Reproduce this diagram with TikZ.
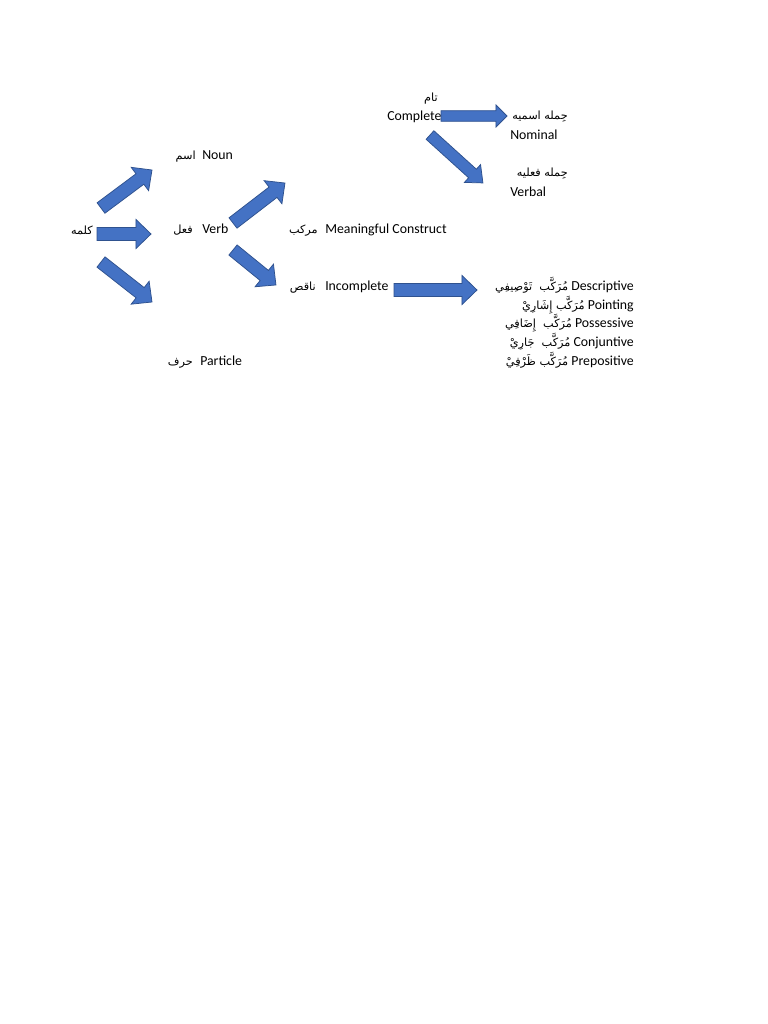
\documentclass[tikz,border=0pt]{standalone}
\usepackage{fontspec}
\setmainfont{Carlito}
\newfontfamily\arfont[Script=Arabic]{DejaVu Sans}
\TeXXeTstate=1
\usetikzlibrary{calc}
\tikzset{
  en/.style={font=\fontsize{11}{13}\selectfont, inner sep=0pt},
  arn/.style={font=\arfont\fontsize{9}{11}\selectfont, inner sep=0pt},
  barrow/.style={fill={rgb,255:red,68;green,114;blue,196}, draw={rgb,255:red,47;green,82;blue,143}, line width=0.6pt, line join=miter}
}
\newcommand\blockarrow[5]{%
  \draw[barrow] let \p1=(#1), \p2=(#2), \n1={atan2(\y2-\y1,\x2-\x1)}, \n2={veclen(\x2-\x1,\y2-\y1)} in
  [shift={(\p1)}, rotate=\n1] (0pt,-#3) -- ({\n2-#5},-#3) -- ({\n2-#5},-#4) -- (\n2,0pt) -- ({\n2-#5},#4) -- ({\n2-#5},#3) -- (0pt,#3) -- cycle;}
\begin{document}
\begin{tikzpicture}[x=0.797pt,y=-0.797pt]
\useasboundingbox[fill=white] (0,0) rectangle (768,1024);

% texts
\node[arn, anchor=base east] (kalima) at (93,234) {\beginR كلمه\endR};
\node[arn, anchor=base east] (ism) at (196,159) {\beginR اسم\endR};
\node[en, anchor=base west] (noun) at (202,159) {Noun};
\node[arn, anchor=base east] (fil) at (193,233) {\beginR فعل\endR};
\node[en, anchor=base west] (verb) at (202,233) {Verb};
\node[arn, anchor=base east] (harf) at (193,365) {\beginR حرف\endR};
\node[en, anchor=base west] (particle) at (200,365) {Particle};
\node[arn, anchor=base east] (murakkab) at (318,233) {\beginR مركب\endR};
\node[en, anchor=base west] (meaning) at (325,233) {Meaningful Construct};
\node[arn, anchor=base east] (naqis) at (316,290) {\beginR ناقص\endR};
\node[en, anchor=base west] (incomplete) at (325,290) {Incomplete};
\node[en, anchor=base west] (complete) at (387,120) {Complete};
\node[arn, anchor=base east] (tam) at (438,101) {\beginR تام\endR};
\node[arn, anchor=base east] (jismiya) at (568,119) {\beginR جِمله اسميه\endR};
\node[en, anchor=base west] (nominal) at (510,139) {Nominal};
\node[arn, anchor=base east] (jfiliya) at (568,176) {\beginR جِمله فعليه\endR};
\node[en, anchor=base west] (verbal) at (510,196) {Verbal};

\node[en, anchor=base east] (l1) at (634,290) {{\arfont\fontsize{9}{11}\selectfont\beginR مُرَكَّب\ \ تَوْصِيفِي\endR} Descriptive};
\node[en, anchor=base east] (l2) at (634,309) {{\arfont\fontsize{9}{11}\selectfont\beginR مُرَكَّب إِشَارِيْ\endR} Pointing};
\node[en, anchor=base east] (l3) at (634,327) {{\arfont\fontsize{9}{11}\selectfont\beginR مُرَكَّب\ \ إِضَافِي\endR} Possessive};
\node[en, anchor=base east] (l4) at (634,346) {{\arfont\fontsize{9}{11}\selectfont\beginR مُرَكَّب\ \ جَارِيْ\endR} Conjuntive};
\node[en, anchor=base east] (l5) at (634,365) {{\arfont\fontsize{9}{11}\selectfont\beginR مُرَكَّب ظَرْفِيْ\endR} Prepositive};

% arrow end points
\coordinate (a1s) at (101,208); \coordinate (a1e) at (152,170);
\coordinate (a2s) at (97,234);  \coordinate (a2e) at (151,234);
\coordinate (a3s) at (101,262); \coordinate (a3e) at (152,302);
\coordinate (a4s) at (233,223); \coordinate (a4e) at (285,183);
\coordinate (a5s) at (233,250); \coordinate (a5e) at (276,285);
\coordinate (a6s) at (394,290); \coordinate (a6e) at (477,290);
\coordinate (a7s) at (441,116); \coordinate (a7e) at (507,116);
\coordinate (a8s) at (430,135); \coordinate (a8e) at (483,183);

\blockarrow{a1s}{a1e}{5.2pt}{11.6pt}{12pt}
\blockarrow{a2s}{a2e}{5.2pt}{11.6pt}{12pt}
\blockarrow{a3s}{a3e}{5.2pt}{11.6pt}{12pt}
\blockarrow{a4s}{a4e}{5.2pt}{11.6pt}{12pt}
\blockarrow{a5s}{a5e}{5.2pt}{11.6pt}{12pt}
\blockarrow{a6s}{a6e}{5.2pt}{11.6pt}{12pt}
\blockarrow{a7s}{a7e}{4.2pt}{8.8pt}{8.8pt}
\blockarrow{a8s}{a8e}{4.6pt}{9.6pt}{11.2pt}
\end{tikzpicture}
\end{document}
